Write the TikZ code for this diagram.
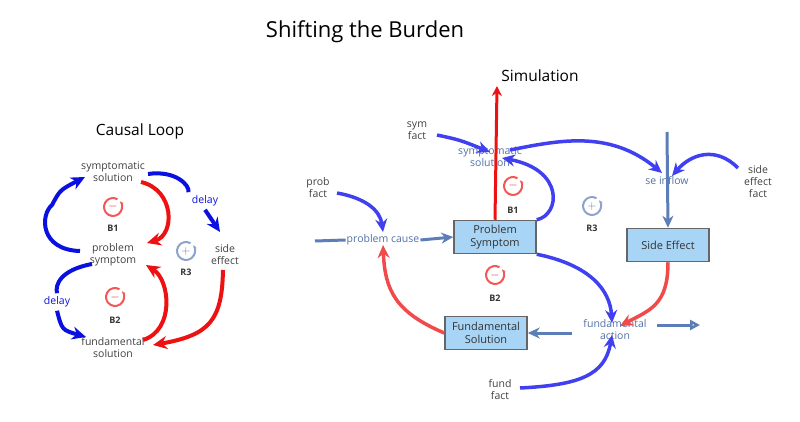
\documentclass[tikz,border=0pt]{standalone}
\usepackage{fontspec}
\setmainfont{Open Sans}
\usetikzlibrary{arrows.meta}
\definecolor{cb}{HTML}{0A10E0}
\definecolor{sb}{HTML}{4040F0}
\definecolor{cr}{HTML}{EE1111}
\definecolor{sr}{HTML}{F04A4A}
\definecolor{fl}{HTML}{5B7DB8}
\definecolor{bx}{HTML}{A8D4F5}
\tikzset{
 t/.style={font=\fontsize{10.5}{12}\selectfont,text=black!75,align=center,inner sep=1pt},
 st/.style={t,text=fl!90!black},
 lab/.style={font=\fontsize{9}{10}\selectfont\bfseries,text=black!80},
 dl/.style={font=\fontsize{10.5}{12}\selectfont,text=cb},
 cbl/.style={draw=cb,line width=4pt,-{Stealth[length=14pt,width=13pt]}},
 crd/.style={draw=cr,line width=4pt,-{Stealth[length=14pt,width=13pt]}},
 sbl/.style={draw=sb,line width=3.5pt,-{Stealth[length=13pt,width=12pt]}},
 srd/.style={draw=sr,line width=3.5pt,-{Stealth[length=13pt,width=12pt]}},
 flow/.style={draw=fl,line width=3pt,-{Stealth[length=12pt,width=11pt]}},
 box/.style={draw=black!60,line width=1.5pt,fill=bx,minimum width=82pt,minimum height=33pt,align=center,font=\fontsize{11}{13}\selectfont,text=black!80,inner sep=1pt},
}
\newcommand{\loopicon}[3]{% pos, color, sign
 \draw[#2!70,line width=2pt,-{Stealth[length=4pt]}] #1 ++(60:9pt) arc (60:400:9pt);
 \node[text=#2,font=\bfseries\fontsize{13}{13}\selectfont] at #1 {#3};}
\begin{document}
\begin{tikzpicture}[x=1pt,y=-1pt]
\useasboundingbox (0,0) rectangle (800,422);
\node[font=\fontsize{22}{26}\selectfont] (title) at (365,32) {Shifting the Burden};
\node[font=\fontsize{15.5}{18}\selectfont] (sim) at (540,76) {Simulation};
\node[font=\fontsize{15.5}{18}\selectfont] (cl) at (140,131) {Causal Loop};
% causal loop
\node[t] (ss) at (113,172) {symptomatic\\solution};
\node[t] (ps) at (113,255) {problem\\symptom};
\node[t] (se) at (225,255) {side\\effect};
\node[t] (fs) at (113,348) {fundamental\\solution};
\loopicon{(113,207)}{cr}{$-$}
\node[lab] (b1) at (113,228) {B1};
\loopicon{(186,251)}{fl}{$+$}
\node[lab] (r3) at (186,272) {R3};
\loopicon{(115,297)}{cr}{$-$}
\node[lab] (b2) at (115,320) {B2};
\node[dl] (d1) at (205,201) {delay};
\node[dl] (d2) at (57,302) {delay};
\coordinate (a1) at (80,251);
\coordinate (a2) at (85,177);
\draw[cbl] (a1) .. controls (40,250) and (40,215) .. (52,205) .. controls (60,190) .. (a2);
\draw[crd] (141,182) .. controls (175,190) and (175,235) .. (147,243);
\draw[cbl] (148,174) .. controls (175,170) and (190,185) .. (d1.north west) (d1.south) -- (220,232);
\draw[crd] (223,270) .. controls (222,320) and (210,335) .. (153,345);
\draw[crd] (143,340) .. controls (175,330) and (170,280) .. (146,265);
\draw[cbl] (92,264) .. controls (60,270) and (55,285) .. (d2.north) (d2.south) .. controls (62,330) .. (86,337);
% simulation
\node[box] (PS) at (495,237) {Problem\\Symptom};
\node[box] (SE) at (668,245) {Side Effect};
\node[box] (FS) at (486,333) {Fundamental\\Solution};
\node[t] (symf) at (417,131) {sym\\fact};
\node[st] (syms) at (490,157) {symptomatic\\solution};
\node[st] (sei) at (667,181) {se inflow};
\node[t] (sef) at (758,182) {side\\effect\\fact};
\node[t] (pf) at (318,188) {prob\\fact};
\node[st] (pc) at (383,240) {problem cause};
\node[st] (fa) at (615,330) {fundamental\\action};
\node[t] (ff) at (500,390) {fund\\fact};
\coordinate (top) at (497,86);
\coordinate (pcs) at (315,241);
\coordinate (sein) at (667,132);
\coordinate (fo) at (700,325);
\loopicon{(513,186)}{cr}{$-$}
\node[lab] (sb1) at (513,210) {B1};
\loopicon{(592,206)}{fl}{$+$}
\node[lab] (sr3) at (592,228) {R3};
\loopicon{(495,275)}{cr}{$-$}
\node[lab] (sb2) at (495,298) {B2};
\draw[draw=cr,line width=3pt,-{Stealth[length=10pt,width=10pt]}] (PS.north) -- (top);
\draw[sbl] (437,135) .. controls (460,140) .. (490,152);
\draw[sbl] (PS.north east) .. controls (560,215) and (565,170) .. (502,158);
\draw[sbl] (510,150) .. controls (560,140) and (610,130) .. (662,173);
\draw[flow] (sein) -- (SE.north);
\draw[sbl] (738,168) .. controls (715,145) and (690,155) .. (672,176);
\draw[sbl] (337,193) .. controls (365,198) and (380,210) .. (383,232);
\draw[flow] (pcs) -- (pc.west) (pc.east) -- (PS.west);
\draw[srd] (FS.west) .. controls (395,312) and (385,290) .. (383,245);
\draw[flow] (572,333) -- (FS.east);
\draw[draw=fl,line width=3pt,-{Triangle[open,length=10pt,width=10pt]}] (657,325) -- (fo);
\draw[sbl] (PS.south east) .. controls (590,265) and (610,290) .. (612,323);
\draw[srd] (SE.south) .. controls (668,305) and (650,310) .. (620,326);
\draw[sbl] (520,388) .. controls (580,385) and (605,375) .. (612,335);
\end{tikzpicture}
\end{document}
